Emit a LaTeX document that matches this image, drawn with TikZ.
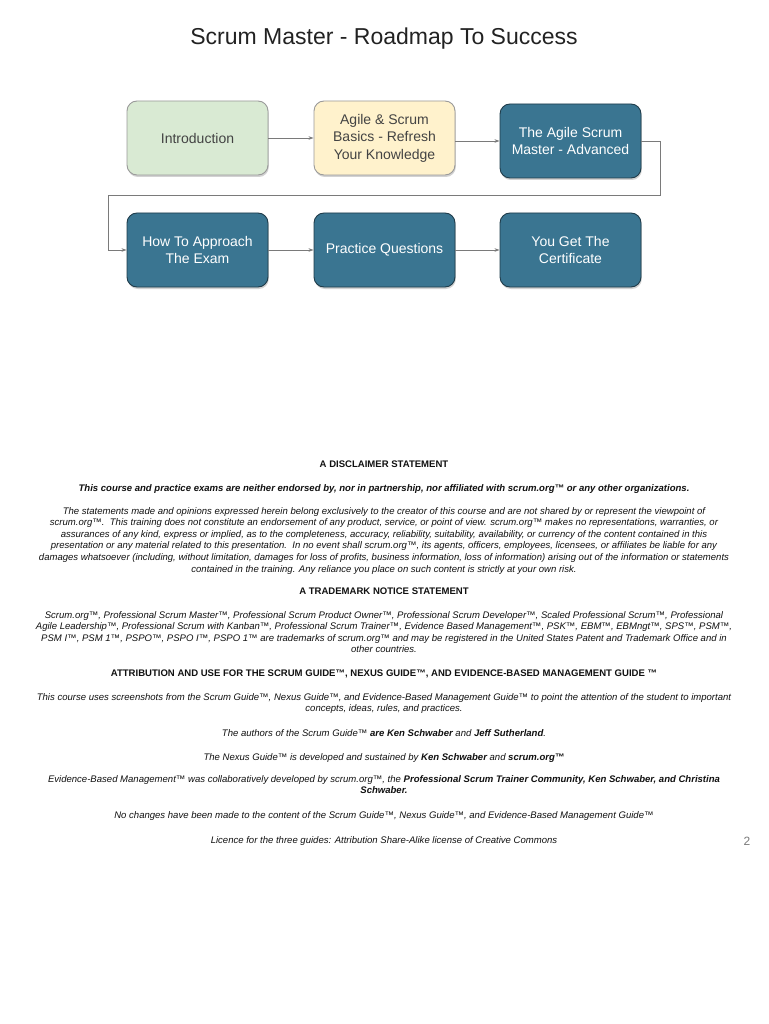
\documentclass[tikz,border=0pt]{standalone}
\usepackage{fontspec}
\setmainfont{Liberation Sans}
\usetikzlibrary{arrows.meta,shadows}
\definecolor{titlec}{HTML}{222222}
\definecolor{greenf}{HTML}{D9EAD3}
\definecolor{yellowf}{HTML}{FFF2CC}
\definecolor{lightdraw}{HTML}{9A9A9A}
\definecolor{tealf}{HTML}{3A7591}
\definecolor{tealdraw}{HTML}{1F3C4A}
\definecolor{boxtext}{HTML}{434343}
\definecolor{linec}{HTML}{7A7A7A}
\definecolor{bodyc}{HTML}{111111}
\newcommand{\bodyfont}{\fontsize{9.55}{11.6}\selectfont}
\tikzset{
  stepbox/.style={rounded corners=10pt, minimum width=141pt, minimum height=74pt,
    align=center, inner sep=2pt, line width=0.9pt,
    font=\fontsize{14}{17.5}\selectfont,
    drop shadow={opacity=0.35, shadow xshift=0.8pt, shadow yshift=-2pt}},
  lightbox/.style={stepbox, draw=lightdraw, text=boxtext},
  darkbox/.style={stepbox, draw=tealdraw, fill=tealf, text=white},
  conn/.style={draw=linec, line width=0.8pt, -{Stealth[length=5pt,width=3.5pt]}},
  para/.style={align=center, inner sep=0pt, text=bodyc, font=\bodyfont},
}
\begin{document}
\begin{tikzpicture}[x=1pt,y=-1pt]
\useasboundingbox[fill=white] (0,0) rectangle (768,1024);

\node[text=titlec, font=\fontsize{23}{27}\selectfont, anchor=base] (title) at (384,45) {Scrum Master - Roadmap To Success};

\node[lightbox, fill=greenf] (intro) at (197.5,138) {Introduction};
\node[lightbox, fill=yellowf] (agile) at (384.5,138) {Agile \& Scrum\\Basics - Refresh\\Your Knowledge};
\node[darkbox] (adv) at (570.5,141) {The Agile Scrum\\Master - Advanced};
\node[darkbox] (how) at (197.5,250) {How To Approach\\The Exam};
\node[darkbox] (prac) at (384.5,250) {Practice Questions};
\node[darkbox] (cert) at (570.5,250) {You Get The\\Certificate};

\coordinate (c1) at (660,195);
\coordinate (c2) at (108,195);
\draw[conn] (intro.east) -- (agile.west);
\draw[conn] (agile.east |- adv.west) -- (adv.west);
\draw[conn] (adv.east) -| (c1) -- (c2) |- (how.west);
\draw[conn] (how.east) -- (prac.west);
\draw[conn] (prac.east) -- (cert.west);

\node[para, anchor=base, font=\bodyfont\bfseries] (h1) at (384,467) {A DISCLAIMER STATEMENT};
\node[para, anchor=base, font=\bodyfont\bfseries\itshape] (p1) at (384,491) {This course and practice exams are neither endorsed by, nor in partnership, nor affiliated with scrum.org™ or any other organizations.};
\node[para, anchor=north, font=\bodyfont\itshape] (p2) at (384,507) {The statements made and opinions expressed herein belong exclusively to the creator of this course and are not shared by or represent the viewpoint of\\
scrum.org™.\ \ This training does not constitute an endorsement of any product, service, or point of view. scrum.org™ makes no representations, warranties, or\\
assurances of any kind, express or implied, as to the completeness, accuracy, reliability, suitability, availability, or currency of the content contained in this\\
presentation or any material related to this presentation.\ \ In no event shall scrum.org™, its agents, officers, employees, licensees, or affiliates be liable for any\\
damages whatsoever (including, without limitation, damages for loss of profits, business information, loss of information) arising out of the information or statements\\
contained in the training. Any reliance you place on such content is strictly at your own risk.};

\node[para, anchor=base, font=\bodyfont\bfseries] (h2) at (384,594) {A TRADEMARK NOTICE STATEMENT};
\node[para, anchor=north, font=\bodyfont\itshape] (p3) at (384,611) {Scrum.org™, Professional Scrum Master™, Professional Scrum Product Owner™, Professional Scrum Developer™, Scaled Professional Scrum™, Professional\\
Agile Leadership™, Professional Scrum with Kanban™, Professional Scrum Trainer™, Evidence Based Management™, PSK™, EBM™, EBMngt™, SPS™, PSM™,\\
PSM I™, PSM 1™, PSPO™, PSPO I™, PSPO 1™ are trademarks of scrum.org™ and may be registered in the United States Patent and Trademark Office and in\\
other countries.};

\node[para, anchor=base, font=\bodyfont\bfseries] (h3) at (384,676) {ATTRIBUTION AND USE FOR THE SCRUM GUIDE™, NEXUS GUIDE™, AND EVIDENCE-BASED MANAGEMENT GUIDE ™};
\node[para, anchor=north, font=\bodyfont\itshape] (p4) at (384,693) {This course uses screenshots from the Scrum Guide™, Nexus Guide™, and Evidence-Based Management Guide™ to point the attention of the student to important\\
concepts, ideas, rules, and practices.};
\node[para, anchor=base, font=\bodyfont\itshape] (p5) at (384,736) {The authors of the Scrum Guide™ \textbf{are Ken Schwaber} and \textbf{Jeff Sutherland}.};
\node[para, anchor=base, font=\bodyfont\itshape] (p6) at (384,760) {The Nexus Guide™ is developed and sustained by \textbf{Ken Schwaber} and \textbf{scrum.org™}};
\node[para, anchor=north, font=\bodyfont\itshape] (p7) at (384,775) {Evidence-Based Management™ was collaboratively developed by scrum.org™, the \textbf{Professional Scrum Trainer Community, Ken Schwaber, and Christina}\\
\textbf{Schwaber.}};
\node[para, anchor=base, font=\bodyfont\itshape] (p8) at (384,818) {No changes have been made to the content of the Scrum Guide™, Nexus Guide™, and Evidence-Based Management Guide™};
\node[para, anchor=base, font=\bodyfont\itshape] (p9) at (384,843) {Licence for the three guides: Attribution Share-Alike license of Creative Commons};
\node[anchor=base, inner sep=0pt, text=linec, font=\fontsize{12}{14}\selectfont] (pg) at (747,845) {2};
\end{tikzpicture}
\end{document}
